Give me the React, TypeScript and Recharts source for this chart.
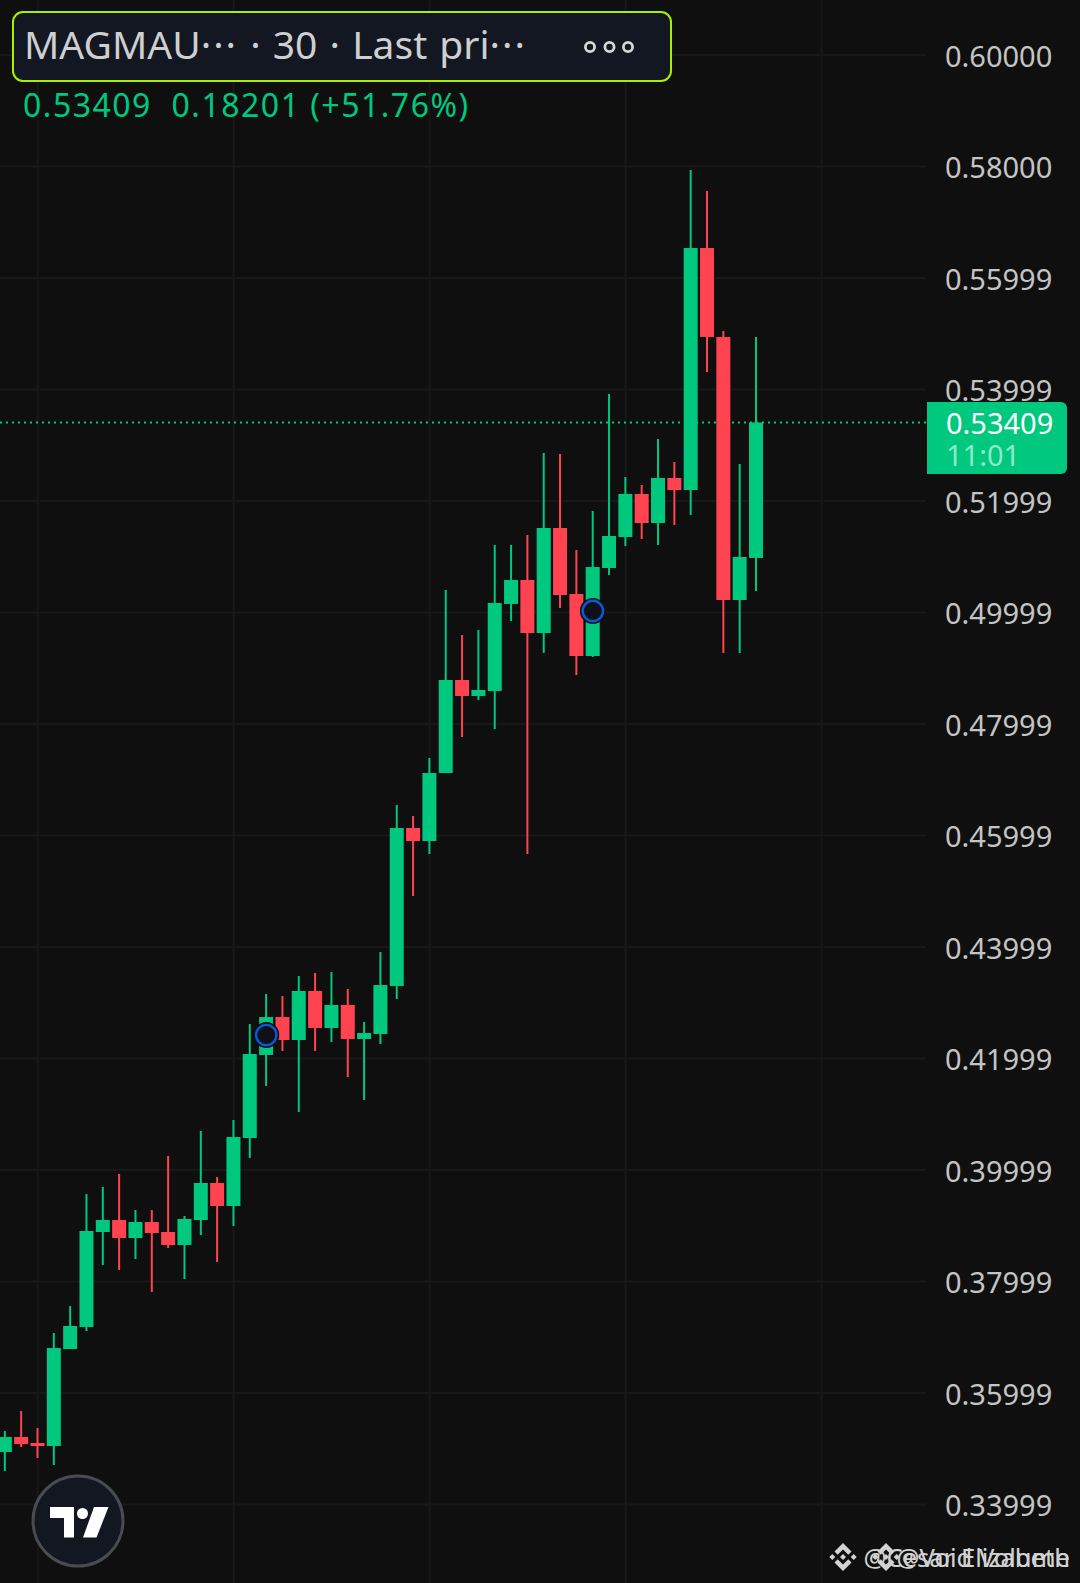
import { Bar, ComposedChart, ReferenceDot, ReferenceLine, XAxis, YAxis } from 'recharts';

const UP = '#00C87F';
const DOWN = '#FF4350';
const BG = '#0F0F0F';
const GRID = '#181818';
const AXIS_TEXT = '#C4C4C4';
const FONT = '"Noto Sans", Roboto, sans-serif';

const opens = [
  0.34942, 0.35211, 0.35103, 0.35049, 0.36789, 0.37184, 0.38888, 0.39103, 0.3878, 0.39067,
  0.38888, 0.38655, 0.39103, 0.39767, 0.39354, 0.40574, 0.42063, 0.42744, 0.42332, 0.43211,
  0.42547, 0.4296, 0.4235, 0.42439, 0.433, 0.46135, 0.45901, 0.47121, 0.48789, 0.48502,
  0.48592, 0.50153, 0.50583, 0.49632, 0.51516, 0.50332, 0.4922, 0.50798, 0.51354, 0.52126,
  0.51605, 0.52413, 0.52197, 0.56538, 0.54942, 0.50224, 0.50978,
];
const highs = [
  0.35318, 0.35677, 0.35372, 0.37076, 0.37561, 0.3957, 0.39695, 0.39928, 0.39283, 0.39283,
  0.40251, 0.39175, 0.407, 0.39874, 0.40897, 0.42619, 0.43157, 0.43121, 0.4348, 0.43534,
  0.43552, 0.43247, 0.42655, 0.4391, 0.46547, 0.4635, 0.4739, 0.50404, 0.49596, 0.49686,
  0.51211, 0.51211, 0.5139, 0.52861, 0.52843, 0.51121, 0.51821, 0.53919, 0.5243, 0.52287,
  0.53112, 0.527, 0.57937, 0.57561, 0.55049, 0.52664, 0.54942,
];
const lows = [
  0.34601, 0.35031, 0.34834, 0.34709, 0.36789, 0.37112, 0.38296, 0.38206, 0.38404, 0.37812,
  0.38601, 0.38045, 0.38834, 0.3835, 0.38996, 0.40215, 0.41507, 0.42135, 0.4104, 0.42135,
  0.42296, 0.41668, 0.41256, 0.4226, 0.43067, 0.44915, 0.45668, 0.47121, 0.47767, 0.48431,
  0.4791, 0.49848, 0.45668, 0.49274, 0.50081, 0.48879, 0.49202, 0.50673, 0.51193, 0.51318,
  0.51211, 0.5157, 0.51749, 0.54314, 0.49274, 0.49274, 0.50386,
];
const closes = [
  0.35211, 0.35085, 0.35049, 0.36807, 0.37202, 0.38906, 0.39103, 0.3878, 0.39067, 0.3887,
  0.38655, 0.39121, 0.39767, 0.39354, 0.40592, 0.42081, 0.42744, 0.42332, 0.43211, 0.42547,
  0.4296, 0.4235, 0.42457, 0.43318, 0.46135, 0.45901, 0.47121, 0.48789, 0.48502, 0.4861,
  0.5017, 0.50583, 0.49632, 0.51516, 0.50314, 0.4922, 0.50816, 0.51372, 0.52126, 0.51605,
  0.52413, 0.52197, 0.56538, 0.54942, 0.50224, 0.50996, 0.53409,
];

const priceTicks = [
  0.6, 0.58, 0.55999, 0.53999, 0.51999, 0.49999, 0.47999, 0.45999,
  0.43999, 0.41999, 0.39999, 0.37999, 0.35999, 0.33999,
];
const timeTicks = [2, 14, 26, 38, 50];
const markers = [
  { index: 16, price: 0.42421 },
  { index: 36, price: 0.50027 },
];
const LAST_PRICE = 0.53409;

const candles = opens.map((open, i) => ({
  index: i,
  open,
  high: highs[i],
  low: lows[i],
  close: closes[i],
  range: [lows[i], highs[i]],
}));

const Candle = (props: any) => {
  const { x, y, width, height, payload } = props;
  const { open, high, low, close } = payload;
  const toY = (p: number) => y + ((high - p) / (high - low)) * height;
  const color = close >= open ? UP : DOWN;
  const cx = x + width / 2;
  const top = toY(Math.max(open, close));
  const bottom = toY(Math.min(open, close));
  return (
    <g>
      <rect x={cx - 1} y={y} width={2} height={height} fill={color} />
      <rect x={cx - 7} y={top} width={14} height={Math.max(bottom - top, 1)} fill={color} />
    </g>
  );
};

const Marker = (props: any) => (
  <g>
    <circle cx={props.cx} cy={props.cy} r={13} fill={BG} />
    <circle cx={props.cx} cy={props.cy} r={10.2} fill="#0F1116" stroke="#0B57DC" strokeWidth={2.4} />
  </g>
);

const BinanceLogo = ({ cx, cy }: { cx: number; cy: number }) => (
  <g transform={`translate(${cx} ${cy})`} fill="#D2D2D2">
    <path d="M0 -14 L8.5 -5.5 L5.3 -2.3 L0 -7.6 L-5.3 -2.3 L-8.5 -5.5 Z" />
    <path d="M0 14 L8.5 5.5 L5.3 2.3 L0 7.6 L-5.3 2.3 L-8.5 5.5 Z" />
    <path d="M0 -3 L3 0 L0 3 L-3 0 Z" />
    <path d="M-10.7 -3 L-7.7 0 L-10.7 3 L-13.7 0 Z" />
    <path d="M10.7 -3 L13.7 0 L10.7 3 L7.7 0 Z" />
  </g>
);

const abs = (left: number, top: number) => ({ position: 'absolute' as const, left, top, whiteSpace: 'pre' as const });
const dots = { letterSpacing: 2 };

export default function App() {
  return (
    <div style={{ position: 'absolute', left: 0, top: 0, width: 1080, height: 1583, background: BG, overflow: 'hidden', fontFamily: FONT }}>
      <ComposedChart width={1080} height={1583} data={candles} margin={{ top: 0, right: 0, bottom: 0, left: 0 }}>
        <XAxis
          dataKey="index"
          type="number"
          domain={[-0.306, 56.4]}
          ticks={timeTicks}
          interval={0}
          allowDataOverflow
          height={0}
          tick={false}
          tickLine={false}
          axisLine={false}
        />
        <YAxis
          orientation="right"
          width={154}
          domain={[0.325919, 0.609865]}
          ticks={priceTicks}
          interval={0}
          allowDataOverflow
          tickLine={false}
          axisLine={false}
          tickSize={0}
          tickMargin={19}
          tickFormatter={(v: number) => v.toFixed(5)}
          tick={{ fill: AXIS_TEXT, fontSize: 29, fontFamily: FONT, dy: 1.5 }}
        />
        {priceTicks.map((p) => (
          <ReferenceLine key={p} y={p} stroke={GRID} strokeWidth={2} zIndex={-1} />
        ))}
        {timeTicks.map((t) => (
          <ReferenceLine key={t} x={t} stroke={GRID} strokeWidth={2} zIndex={-1} />
        ))}
        <ReferenceLine y={LAST_PRICE} stroke={UP} strokeWidth={2} strokeDasharray="2 4" zIndex={-1} />
        <Bar dataKey="range" barSize={14} shape={<Candle />} isAnimationActive={false} />
        {markers.map((m) => (
          <ReferenceDot key={m.index} x={m.index} y={m.price} shape={<Marker />} />
        ))}
      </ComposedChart>

      <div style={{ ...abs(12, 11), width: 656, height: 67, boxSizing: 'content-box', background: '#131722', border: '2px solid #A8F000', borderRadius: 11 }} />
      <div style={{ ...abs(24, 19), fontSize: 39, lineHeight: '50px', color: '#CFCFCF', wordSpacing: 2 }}>
        MAGMAU<span style={dots}>···</span> · 30 · Last pri<span style={dots}>···</span>
      </div>
      <svg style={{ position: 'absolute', left: 575, top: 30 }} width={70} height={34}>
        {[15, 34.5, 53].map((cx) => (
          <circle key={cx} cx={cx} cy={17} r={4.6} fill="none" stroke="#D6D6D6" strokeWidth={2.8} />
        ))}
      </svg>
      <div style={{ ...abs(23, 84), fontSize: 32, lineHeight: '42px', color: UP, letterSpacing: 1.5 }}>0.53409  0.18201 (+51.76%)</div>

      <div style={{ ...abs(927, 402), width: 140, height: 72, background: UP, borderRadius: '0 6px 6px 0' }} />
      <div style={{ ...abs(946, 404), fontSize: 29, lineHeight: '38px', color: '#FFFFFF' }}>0.53409</div>
      <div style={{ ...abs(946, 436), fontSize: 29, lineHeight: '38px', color: '#8FE9C8' }}>11:01</div>

      <svg style={{ position: 'absolute', left: 0, top: 0, pointerEvents: 'none' }} width={1080} height={1583}>
        <circle cx={78} cy={1521} r={45} fill="#131722" stroke="#4A4B52" strokeWidth={3} />
        <g fill="#FFFFFF">
          <path d="M50 1507 L74 1507 L74 1537.5 L64 1537.5 L64 1518 L50 1518 Z" />
          <circle cx={82.5} cy={1513.5} r={5.5} />
          <path d="M94 1507 L108.5 1507 L96.5 1537.5 L83 1537.5 Z" />
        </g>
        <BinanceLogo cx={843} cy={1557} />
        <BinanceLogo cx={886} cy={1557} />
        <text x={1070} y={1567} textAnchor="end" fontSize={25.6} fill="#D2D2D2" fontFamily={FONT}>@Cesar Elizabeth</text>
        <text x={1070} y={1567} textAnchor="end" fontSize={25.6} fill="#D2D2D2" fontFamily={FONT}>@Void Volume</text>
      </svg>
    </div>
  );
}
